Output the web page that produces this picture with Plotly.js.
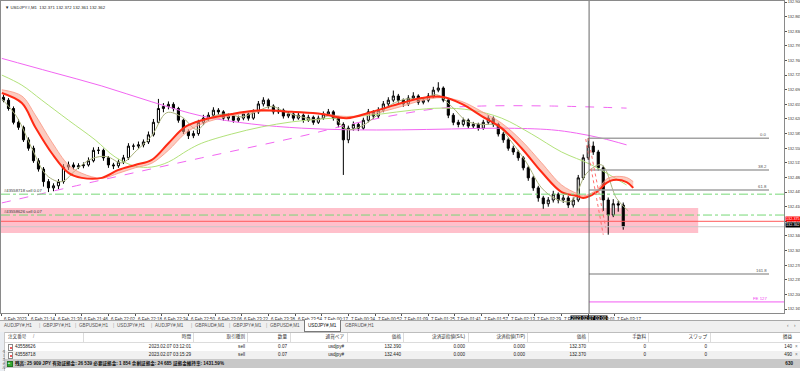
<!DOCTYPE html>
<html><head><meta charset="utf-8">
<script src="https://cdn.plot.ly/plotly-3.0.1.min.js"></script>
<style>
html,body{margin:0;padding:0;width:800px;height:371px;overflow:hidden;background:#fff;font-family:"Liberation Sans","Noto Sans CJK JP",sans-serif;}
#chart{position:absolute;left:0;top:0;width:800px;height:371px;}
#panel{position:absolute;left:0;top:320px;width:800px;height:51px;background:#fff;overflow:hidden;}
.t{position:absolute;white-space:nowrap;font-size:4.6px;color:#222;line-height:1;}
.box{position:absolute;}
</style></head><body>
<div id="chart"></div>
<div id="panel"></div>
<script>
// ---------- DATA ----------
const timeTickLabels = ["6 Feb 2023","6 Feb 21:14","6 Feb 21:30","6 Feb 21:46","6 Feb 22:02","6 Feb 22:18","6 Feb 22:34","6 Feb 22:50","6 Feb 23:06","6 Feb 23:22","6 Feb 23:38","6 Feb 23:54","7 Feb 00:17","7 Feb 00:34","7 Feb 00:52","7 Feb 01:09","7 Feb 01:25","7 Feb 01:41","7 Feb 01:57","7 Feb 02:13","7 Feb 02:29","7 Feb 02:45","7 Feb 03:01","7 Feb 03:17"];
const timeTickBars = [0,16,32,48,64,80,96,112,128,144,160,176,192,208,224,240,256,272,288,304,320,336,352,368];
const priceTicks = [132.165,132.200,132.235,132.270,132.305,132.340,132.375,132.410,132.445,132.480,132.515,132.550,132.585,132.620,132.655,132.690,132.725,132.760,132.795,132.830,132.865,132.900];

// 3-minute candles (each spans 3 M1 bars)
const candleOpen = [132.672,132.665,132.645,132.612,132.600,132.570,132.550,132.520,132.500,132.470,
132.455,132.460,132.470,132.505,132.510,132.505,132.508,132.510,132.520,132.545,
132.545,132.527,132.510,132.508,132.517,132.527,132.555,132.555,132.558,132.565,
132.582,132.612,132.645,132.650,132.655,132.645,132.617,132.590,132.580,132.585,
132.612,132.622,132.629,132.641,132.637,132.622,132.627,132.617,132.622,132.632,
132.622,132.637,132.656,132.665,132.651,132.637,132.641,132.627,132.632,132.622,
132.629,132.617,132.624,132.612,132.622,132.632,132.637,132.622,132.607,132.570,
132.598,132.607,132.598,132.617,132.637,132.627,132.641,132.656,132.665,132.675,
132.665,132.656,132.670,132.675,132.660,132.665,132.675,132.689,132.694,132.665,
132.629,132.612,132.607,132.617,132.603,132.607,132.598,132.612,132.622,132.607,
132.584,132.570,132.550,132.541,132.527,132.503,132.479,132.455,132.431,132.417,
132.426,132.440,132.426,132.431,132.414,132.426,132.479,132.527,132.555,132.541,
132.503,132.426,132.390,132.417,132.414];
const candleHigh = [132.678,132.670,132.650,132.620,132.604,132.576,132.556,132.526,132.505,132.476,
132.466,132.476,132.512,132.518,132.516,132.514,132.516,132.528,132.552,132.553,
132.549,132.531,132.515,132.523,132.534,132.562,132.561,132.566,132.571,132.590,
132.620,132.668,132.658,132.662,132.660,132.649,132.621,132.595,132.592,132.618,
132.630,132.636,132.648,132.646,132.641,132.633,132.631,132.628,132.639,132.636,
132.643,132.663,132.672,132.669,132.655,132.648,132.645,132.638,132.636,132.635,
132.633,132.630,132.628,132.628,132.638,132.644,132.641,132.626,132.612,132.604,
132.614,132.612,132.623,132.644,132.641,132.648,132.663,132.672,132.688,132.680,
132.669,132.677,132.684,132.679,132.671,132.682,132.697,132.708,132.698,132.669,
132.634,132.618,132.623,132.621,132.613,132.611,132.618,132.629,132.626,132.611,
132.589,132.575,132.556,132.546,132.531,132.508,132.484,132.460,132.436,132.433,
132.448,132.444,132.438,132.436,132.432,132.486,132.535,132.574,132.566,132.546,
132.508,132.432,132.428,132.424,132.420];
const candleLow = [132.660,132.640,132.607,132.594,132.565,132.544,132.515,132.494,132.458,132.445,
132.447,132.452,132.465,132.498,132.499,132.500,132.502,132.506,132.516,132.536,
132.520,132.503,132.500,132.503,132.512,132.522,132.546,132.549,132.552,132.560,
132.578,132.608,132.636,132.643,132.638,132.611,132.584,132.572,132.574,132.580,
132.606,132.616,132.624,132.630,132.616,132.615,132.611,132.612,132.617,132.616,
132.618,132.632,132.650,132.645,132.631,132.632,132.621,132.622,132.616,132.618,
132.611,132.613,132.606,132.608,132.618,132.627,132.616,132.600,132.486,132.562,
132.592,132.591,132.594,132.612,132.620,132.622,132.636,132.650,132.660,132.659,
132.649,132.651,132.665,132.654,132.655,132.660,132.670,132.684,132.660,132.622,
132.605,132.600,132.602,132.597,132.598,132.592,132.594,132.607,132.601,132.578,
132.563,132.544,132.534,132.520,132.497,132.472,132.448,132.422,132.405,132.410,
132.420,132.418,132.419,132.407,132.408,132.421,132.474,132.522,132.534,132.496,
132.400,132.343,132.385,132.398,132.355];
const candleClose = [132.665,132.645,132.612,132.600,132.570,132.550,132.520,132.500,132.470,132.455,
132.460,132.470,132.505,132.510,132.505,132.508,132.510,132.520,132.545,132.545,
132.527,132.510,132.508,132.517,132.527,132.555,132.555,132.558,132.565,132.582,
132.612,132.645,132.650,132.655,132.645,132.617,132.590,132.580,132.585,132.612,
132.622,132.629,132.641,132.637,132.622,132.627,132.617,132.622,132.632,132.622,
132.637,132.656,132.665,132.651,132.637,132.641,132.627,132.632,132.622,132.629,
132.617,132.624,132.612,132.622,132.632,132.637,132.622,132.607,132.570,132.598,
132.607,132.598,132.617,132.637,132.627,132.641,132.656,132.665,132.675,132.665,
132.656,132.670,132.675,132.660,132.665,132.675,132.689,132.694,132.665,132.629,
132.612,132.607,132.617,132.603,132.607,132.598,132.612,132.622,132.607,132.584,
132.570,132.550,132.541,132.527,132.503,132.479,132.455,132.431,132.417,132.426,
132.440,132.426,132.431,132.414,132.426,132.479,132.527,132.555,132.541,132.503,
132.426,132.390,132.417,132.414,132.362];

// moving averages (bar index, price)
const redBars = [0,12,20,30,40,48,60,70,80,90,100,110,120,138,156,174,192,207,222,240,252,264,276,288,300,312,324,336,345,349,357,363,367,375,379];
const redMa = [132.682,132.658,132.601,132.538,132.491,132.479,132.479,132.498,132.510,132.522,132.562,132.601,132.617,132.632,132.641,132.637,132.632,132.622,132.637,132.658,132.670,132.673,132.656,132.627,132.598,132.550,132.493,132.445,132.436,132.431,132.445,132.467,132.474,132.469,132.455];
const salmonMa = [132.690,132.675,132.630,132.565,132.510,132.490,132.478,132.490,132.503,132.514,132.545,132.585,132.608,132.628,132.638,132.638,132.633,132.626,132.632,132.650,132.664,132.671,132.662,132.638,132.610,132.568,132.515,132.462,132.442,132.436,132.450,132.476,132.482,132.480,132.470];
const greenBars = [0,12,24,40,56,68,80,90,100,112,120,138,156,174,192,210,228,246,264,282,300,318,336,354,375];
const greenMa = [132.725,132.701,132.665,132.617,132.570,132.529,132.507,132.505,132.517,132.546,132.562,132.584,132.601,132.613,132.620,132.625,132.632,132.641,132.646,132.641,132.622,132.584,132.541,132.510,132.462];
const magBars = [0,30,60,90,120,150,180,210,240,270,300,330,345,360,375];
const magMa = [132.765,132.732,132.699,132.661,132.627,132.608,132.598,132.594,132.594,132.596,132.598,132.594,132.586,132.574,132.558];
const magDashBars = [0,60,120,180,210,240,264,288,330,375];
const magDashMa = [132.419,132.474,132.527,132.579,132.608,132.632,132.646,132.651,132.651,132.646];
const oliveBars = [0,9,18,27,36,45,54,63,72,81,90,99,108,117,126,135,144,153,162,171,180,189,198,207,216,225,234,243,252,261,270,279,288,297,306,315,324,333,342,351,360,369,376];
const oliveMa = [132.668,132.625,132.550,132.485,132.470,132.500,132.525,132.530,132.515,132.545,132.580,132.635,132.625,132.595,132.625,132.632,132.625,132.638,132.650,132.635,132.625,132.618,132.628,132.595,132.603,132.628,132.655,132.668,132.667,132.678,132.650,132.615,132.607,132.605,132.565,132.515,132.455,132.428,132.424,132.490,132.510,132.430,132.400];

// chart objects
const orderLabels = ["#43558718 sell 0.07","#43558626 sell 0.07"];
const orderPrices = [132.440,132.390];
const askPrice = 132.375, bidPrice = 132.362;
const zoneLow = 132.347, zoneHigh = 132.407, zoneEndBar = 418;
const fibLabels = ["0.0","38.2","61.8","161.8"];
const fibPrices = [132.574,132.498,132.450,132.249];
const fibStartBar = 352.5, fibEndBar = 460.5;
const feLabel = "FE 127", fePrice = 132.182;
const vlineBar = 352.5, vlineText = "2023.02.07 03:00";
const fibTrendBars = [[350.5,361],[352,362.5]];
const fibTrendPrices = [[132.572,132.343],[132.574,132.360]];
const titleText = "▼ USDJPY#,M1  132.371 132.372 132.361 132.362";

// terminal
const tabNames = ["AUDJPY#,H1","GBPJPY#,H1","GBPUSD#,H1","USDJPY#,H1","AUDJPY#,M1","GBPAUD#,M1","GBPJPY#,M1","GBPUSD#,M1","USDJPY#,M1","GBPAUD#,H1"];
const activeTab = 8;
const headers = ["注文番号","時間","取引種別","数量","通貨ペア","価格","決済逆指値(S/L)","決済指値(T/P)","価格","手数料","スワップ","損益"];
const row1 = ["43558626","2023.02.07 03:12:01","sell","0.07","usdjpy#","132.390","0.000","0.000","132.370","0","0","140"];
const row2 = ["43558718","2023.02.07 03:15:29","sell","0.07","usdjpy#","132.440","0.000","0.000","132.370","0","0","490"];
const statusText = "残高: 25 909 JPY  有効証拠金: 26 539  必要証拠金: 1 854  余剰証拠金: 24 685  証拠金維持率: 1431.59%";
const totalProfit = "630";

// ---------- CHART ----------
const F = 'Liberation Sans, Noto Sans CJK JP, sans-serif';
const candleX = candleClose.map((_, i) => 3 * i + 1);
const traces = [
  {type:'candlestick', x:candleX, open:candleOpen, high:candleHigh, low:candleLow, close:candleClose,
   increasing:{line:{color:'#000',width:1}, fillcolor:'#ffffff'},
   decreasing:{line:{color:'#000',width:1}, fillcolor:'#000000'},
   whiskerwidth:0, hoverinfo:'skip', showlegend:false},
  {type:'scatter', mode:'lines', x:magBars, y:magMa, line:{color:'#f266f2', width:1, shape:'spline'}, hoverinfo:'skip'},
  {type:'scatter', mode:'lines', x:magDashBars, y:magDashMa, line:{color:'#f266f2', width:1, dash:'dash', shape:'spline'}, hoverinfo:'skip'},
  {type:'scatter', mode:'lines', x:greenBars, y:greenMa, line:{color:'#b2e27a', width:1, shape:'spline'}, hoverinfo:'skip'},
  {type:'scatter', mode:'lines', x:oliveBars, y:oliveMa, line:{color:'#a9b27c', width:1, shape:'spline'}, hoverinfo:'skip'},
  {type:'scatter', mode:'lines', x:redBars, y:salmonMa, line:{color:'rgba(250,150,130,0.8)', width:1, shape:'spline'}, hoverinfo:'skip'},
  {type:'scatter', mode:'lines', x:redBars, y:redMa, fill:'tonexty', fillcolor:'rgba(250,160,140,0.55)', line:{color:'#ff2a14', width:2, shape:'spline'}, hoverinfo:'skip'}
];

const shapes = [];
shapes.push({type:'rect', layer:'below', xref:'x', x0:-0.5, x1:zoneEndBar, yref:'y', y0:zoneLow, y1:zoneHigh, line:{width:0}, fillcolor:'#ffc0cb'});
orderPrices.forEach(p => shapes.push({type:'line', xref:'paper', x0:0, x1:1, y0:p, y1:p, line:{color:'#77d877', width:1, dash:'dashdot'}}));
shapes.push({type:'line', xref:'paper', x0:0, x1:1, y0:bidPrice, y1:bidPrice, line:{color:'#c8c8c8', width:1}});
shapes.push({type:'line', xref:'paper', x0:0, x1:1, y0:askPrice, y1:askPrice, line:{color:'#ff5a5a', width:1}});
fibPrices.forEach(p => shapes.push({type:'line', x0:fibStartBar, x1:fibEndBar, y0:p, y1:p, line:{color:'#a3a3a3', width:1.5}}));
shapes.push({type:'line', x0:fibStartBar, x1:469.5, y0:fePrice, y1:fePrice, line:{color:'#f25af2', width:1}});
fibTrendBars.forEach((b, i) => shapes.push({type:'line', x0:b[0], x1:b[1], y0:fibTrendPrices[i][0], y1:fibTrendPrices[i][1], line:{color:'#ff6f6f', width:1, dash:'dot'}}));
shapes.push({type:'line', x0:vlineBar, x1:vlineBar, yref:'paper', y0:0, y1:1, line:{color:'#666', width:1}});

const annotations = [];
annotations.push({xref:'paper', yref:'paper', x:0, y:1, xanchor:'left', yanchor:'top', xshift:2, yshift:-2, showarrow:false, text:titleText, font:{size:4.3, color:'#222', family:F}});
orderLabels.forEach((t, i) => annotations.push({xref:'paper', x:0, xanchor:'left', xshift:1, y:orderPrices[i], yanchor:'bottom', yshift:-1, showarrow:false, text:t, font:{size:4.2, color:'#333', family:F}}));
fibLabels.forEach((t, i) => annotations.push({x:fibEndBar, xanchor:'right', y:fibPrices[i], yanchor:'bottom', yshift:-1, showarrow:false, text:t, font:{size:4.3, color:'#555', family:F}}));
annotations.push({x:fibEndBar, xanchor:'right', y:fePrice, yanchor:'bottom', yshift:-1, showarrow:false, text:feLabel, font:{size:4.3, color:'#f040f0', family:F}});
timeTickLabels.forEach((t, i) => annotations.push({x:timeTickBars[i], xanchor:'left', xshift:0.5, yref:'paper', y:0, yanchor:'top', yshift:-1.5, showarrow:false, text:t, font:{size:4.5, color:'#333', family:F}}));
annotations.push({x:vlineBar, xanchor:'center', yref:'paper', y:0, yanchor:'top', yshift:-1.5, showarrow:false, text:vlineText, bgcolor:'#000', borderpad:0.3, font:{size:4.5, color:'#fff', family:F}});
annotations.push({xref:'paper', x:1, xanchor:'left', xshift:1, y:askPrice, yanchor:'bottom', yshift:-0.5, showarrow:false, text:askPrice.toFixed(3), bgcolor:'#ff0000', borderpad:0, font:{size:3.8, color:'#fff', family:F}});
annotations.push({xref:'paper', x:1, xanchor:'left', xshift:1, y:askPrice, yanchor:'top', yshift:-0.5, showarrow:false, text:bidPrice.toFixed(3), bgcolor:'#000', borderpad:0, font:{size:3.8, color:'#fff', family:F}});

const layout = {
  width:800, height:371, margin:{l:1, r:16, t:1, b:58},
  paper_bgcolor:'#fff', plot_bgcolor:'#fff', showlegend:false, boxgap:0.4, hovermode:false,
  xaxis:{range:[-0.5,469.5], showgrid:false, zeroline:false, showline:true, mirror:true, linecolor:'#8a8a8a', linewidth:1,
         tickmode:'array', tickvals:timeTickBars, ticks:'outside', ticklen:2, tickcolor:'#555', showticklabels:false,
         rangeslider:{visible:false}, fixedrange:true},
  yaxis:{range:[132.1555,132.9024], side:'right', showgrid:false, zeroline:false, showline:true, mirror:true, linecolor:'#8a8a8a', linewidth:1,
         tickmode:'array', tickvals:priceTicks, ticktext:priceTicks.map(v => v.toFixed(3)), ticks:'outside', ticklen:2, tickcolor:'#555',
         ticklabelstandoff:0.5, tickfont:{size:3.8, color:'#333', family:F}, fixedrange:true},
  shapes, annotations
};
Plotly.newPlot('chart', traces, layout, {staticPlot:true, displayModeBar:false});

// ---------- TERMINAL PANEL ----------
const panel = document.getElementById('panel');
function el(cls, css, text){ const d = document.createElement('div'); d.className = cls; d.style.cssText = css; if (text !== undefined) d.textContent = text; panel.appendChild(d); return d; }
// tab bar
el('box','left:0;top:0;width:800px;height:12px;background:#f0f0f0;border-top:1px solid #a8a8a8;box-sizing:border-box;');
const tabLeft = [4,43,79,117,155,195,233,270,308,345];
el('box','left:304px;top:0;width:37px;height:12px;background:#fff;border:1px solid #7a7a7a;border-top:none;box-sizing:border-box;');
tabNames.forEach((n, i) => {
  el('t', `left:${tabLeft[i]}px;top:4px;color:${i===activeTab?'#111':'#555'};`, n);
  if (i > 0 && i !== activeTab && i !== activeTab + 1) el('t', `left:${tabLeft[i]-4}px;top:3.5px;color:#999;`, '|');
});
el('t','left:787px;top:4px;color:#666;','‹');
el('t','left:794px;top:4px;color:#666;','›');
// left vertical strip
el('box','left:0;top:12px;width:5px;height:39px;background:#e9edf2;border-right:1px solid #c9c9c9;box-sizing:border-box;');
el('t','left:0.5px;top:30px;writing-mode:vertical-rl;font-size:3.8px;color:#444;','ターミナル');
// header
el('box','left:5px;top:12px;width:795px;height:11px;background:#fff;border-top:1px solid #bdbdbd;border-bottom:1px solid #dcdcdc;box-sizing:border-box;');
const colRight = [0,191,245,287,344,401,465,525,586,646,707,792];
const colSep = [83,193,247,290,347,403,468,527,588,648,710];
colSep.forEach(x => el('box', `left:${x}px;top:13px;width:1px;height:9px;background:#dcdcdc;`));
headers.forEach((h, i) => {
  if (i === 0) el('t','left:8px;top:15px;color:#333;', h);
  else el('t', `right:${800-colRight[i]}px;top:15px;color:#333;`, h);
});
el('t','left:33px;top:15px;color:#777;','/');
// rows
el('box','left:5px;top:31px;width:795px;height:8px;background:#f1f1f1;');
[row1, row2].forEach((r, ri) => {
  const top = 24.5 + ri * 8;
  el('box', `left:8px;top:${top-0.5}px;width:3px;height:4.5px;background:#fff;border:0.5px solid #888;`);
  el('box', `left:10px;top:${top+2.5}px;width:2px;height:2px;background:#e22;border-radius:1px;`);
  r.forEach((v, i) => {
    if (i === 0) el('t', `left:15px;top:${top}px;`, v);
    else el('t', `right:${800-colRight[i]}px;top:${top}px;`, v);
  });
  el('t', `left:795px;top:${top}px;color:#777;`, '×');
});
// status bar
el('box','left:5px;top:39px;width:795px;height:9px;background:#c8c8c8;');
el('box','left:7px;top:41px;width:4px;height:4px;background:#3a3;border:0.5px solid #272;');
el('t','left:7.8px;top:40.6px;color:#fff;font-weight:bold;font-size:4px;','+');
el('t','left:15px;top:41.5px;font-weight:bold;color:#111;', statusText);
el('t','right:7px;top:41.5px;font-weight:bold;color:#111;', totalProfit);
</script>
</body></html>
